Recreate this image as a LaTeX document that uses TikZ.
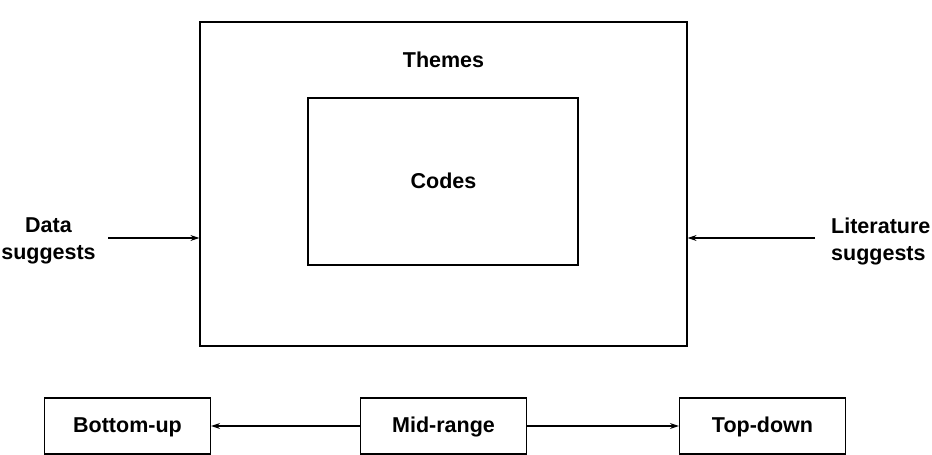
\documentclass[tikz,border=0pt]{standalone}
\usepackage{fontspec}
\setmainfont{Liberation Sans}
\usetikzlibrary{arrows.meta}
\begin{document}
\begin{tikzpicture}[x=1pt,y=-1pt,
  lbl/.style={font=\fontsize{21.5}{27}\selectfont\bfseries, align=center, inner sep=0pt},
  box/.style={draw, line width=1.2pt, inner sep=0pt},
  conn/.style={line width=1.1pt, -{Stealth[length=9pt,width=6pt]}},
  every node/.style={text=black}]
\useasboundingbox (0,0) rectangle (932,455);
% outer and inner boxes
\node[box, minimum width=487pt, minimum height=324pt] (outer) at (443.5,184) {};
\node[box, minimum width=270pt, minimum height=167pt] (inner) at (443,181.5) {};
\node[lbl, anchor=base] (themes) at (443.5,67) {Themes};
\node[lbl, anchor=base] (codes) at (443.5,188) {Codes};
% side labels (base anchor = baseline of last line)
\node[lbl, anchor=base] (data) at (48.5,259.5) {Data\\suggests};
\node[lbl, anchor=base west, align=left] (lit) at (831,260) {Literature\\suggests};
\coordinate (dstart) at (108,238);
\coordinate (lstart) at (815,238);
\draw[conn] (dstart) -- (outer.west |- dstart);
\draw[conn] (lstart) -- (outer.east |- lstart);
% bottom boxes
\node[box, minimum width=166pt, minimum height=56pt] (bu) at (127.5,426) {};
\node[box, minimum width=166pt, minimum height=56pt] (mr) at (443.5,426) {};
\node[box, minimum width=166pt, minimum height=56pt] (td) at (762.5,426) {};
\node[lbl, anchor=base] (bulbl) at (127.5,432.5) {Bottom-up};
\node[lbl, anchor=base] (mrlbl) at (443.5,432.5) {Mid-range};
\node[lbl, anchor=base] (tdlbl) at (762.5,432.5) {Top-down};
\draw[conn] (mr.west) -- (bu.east);
\draw[conn] (mr.east) -- (td.west);
\end{tikzpicture}
\end{document}
